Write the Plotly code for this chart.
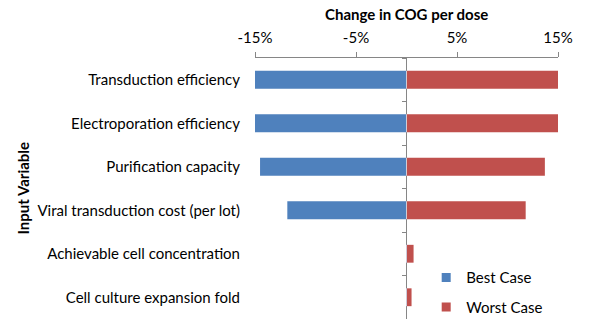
import plotly.graph_objects as go

categories = ["Transduction efficiency", "Electroporation efficiency", "Purification capacity",
              "Viral transduction cost (per lot)", "Achievable cell concentration",
              "Cell culture expansion fold"]
best_case = [-15.0, -15.0, -14.5, -11.8, -0.05, -0.05]
worst_case = [15.0, 15.0, 13.7, 11.8, 0.7, 0.5]
x_tickvals = [-15, -5, 5, 15]
x_ticktext = ["-15%", "-5%", "5%", "15%"]

BLUE = "#4F81BD"
RED = "#C0504D"
GRAY = "#868686"
FONT = "Lato"

fig = go.Figure()
fig.add_trace(go.Bar(y=categories, x=best_case, orientation="h", marker=dict(color=BLUE, line=dict(width=0)),
                     showlegend=False, name="Best Case"))
fig.add_trace(go.Bar(y=categories, x=worst_case, orientation="h", marker=dict(color=RED, line=dict(width=0)),
                     showlegend=False, name="Worst Case"))
# invisible trace to carry the centre axis with boundary ticks
fig.add_trace(go.Bar(y=categories, x=[0] * len(categories), orientation="h", yaxis="y2",
                     showlegend=False, hoverinfo="skip", marker=dict(color="rgba(0,0,0,0)")))
# legend entries
fig.add_trace(go.Scatter(x=[None], y=[None], mode="markers", name="Best Case",
                         marker=dict(symbol="square", size=9, color=BLUE), legendgroup="a"))
fig.add_trace(go.Scatter(x=[None], y=[None], mode="markers", name="Worst Case",
                         marker=dict(symbol="square", size=9, color=RED), legendgroup="b"))

fig.update_layout(
    width=600, height=335,
    margin=dict(l=255, r=42, t=58, b=12),
    paper_bgcolor="white", plot_bgcolor="white",
    barmode="overlay", bargap=0.59,
    font=dict(family=FONT, size=15, color="black"),
    xaxis=dict(side="top", range=[-15, 15], tickvals=x_tickvals, ticktext=x_ticktext,
               showline=True, linecolor=GRAY, linewidth=1, ticks="outside", ticklen=5, tickcolor=GRAY,
               showgrid=False, zeroline=True, zerolinecolor=GRAY, zerolinewidth=1,
               layer="above traces", ticklabelstandoff=3),
    yaxis=dict(type="category", categoryarray=categories, autorange="reversed",
               showline=False, ticks="", showgrid=False, ticklabelstandoff=14),
    yaxis2=dict(type="category", categoryarray=categories, autorange="reversed",
                overlaying="y", anchor="free", position=0.5, side="left",
                showline=False, ticks="outside", ticklen=5, tickcolor=GRAY, tickson="boundaries",
                showticklabels=False, showgrid=False, layer="above traces"),
    legend=dict(x=0.565, y=0.221, xanchor="left", yanchor="top", tracegroupgap=7,
                font=dict(size=15), bgcolor="rgba(0,0,0,0)"),
    annotations=[
        dict(text="<b>Change in COG per dose</b>", xref="paper", yref="paper", x=0.5, y=1,
             yshift=44, xanchor="center", yanchor="middle", showarrow=False, font=dict(size=15)),
        dict(text="<b>Input Variable</b>", xref="paper", yref="paper", x=0, xshift=-233, y=0.5,
             xanchor="center", yanchor="middle", textangle=-90, showarrow=False, font=dict(size=15)),
    ],
)

fig.write_html("out.html")
